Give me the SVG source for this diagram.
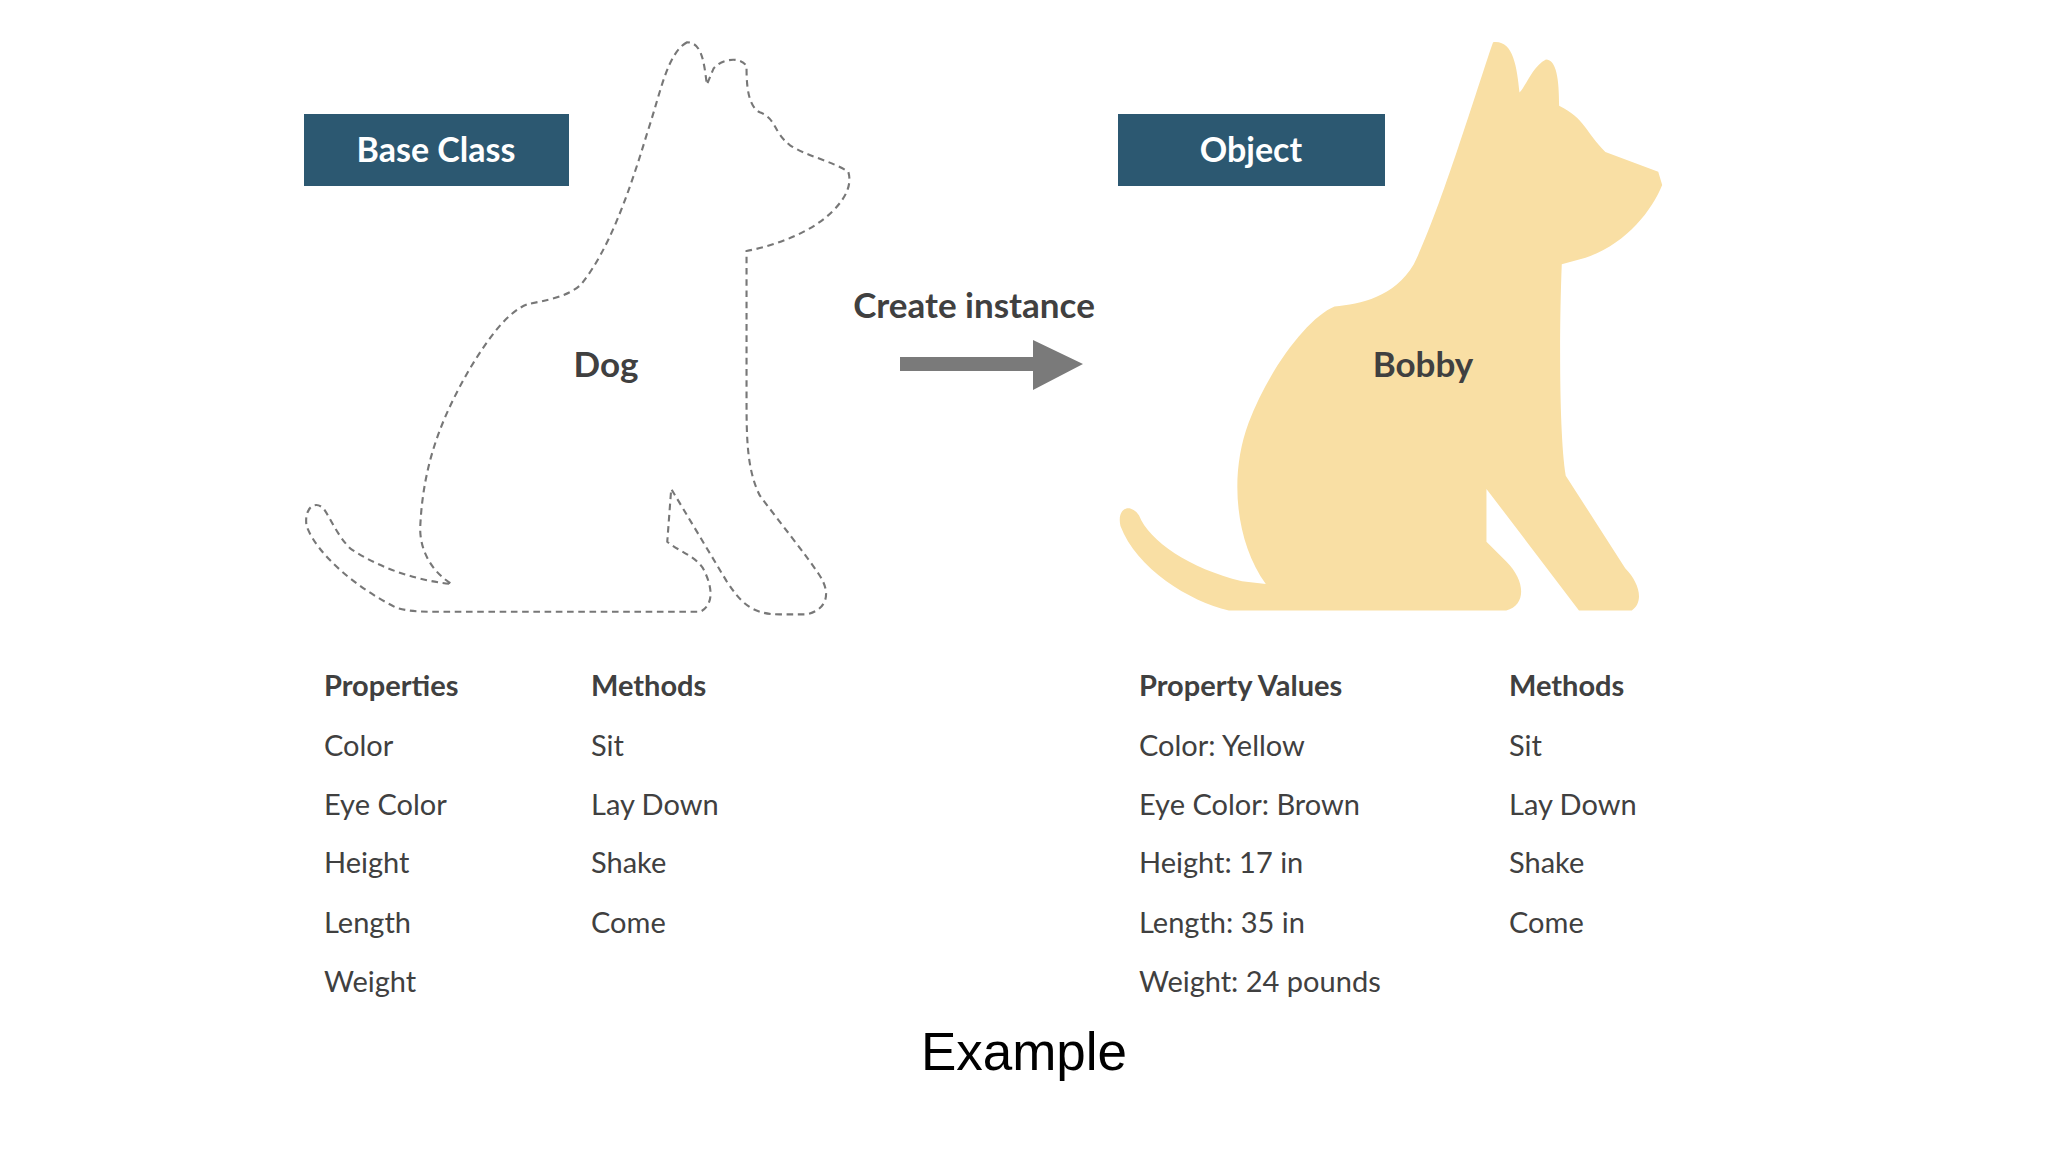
<svg xmlns="http://www.w3.org/2000/svg" width="2048" height="1152" viewBox="0 0 2048 1152">
<style>
.box{fill:#2c5871}
.bt{font-family:Lato,"Noto Sans",sans-serif;font-weight:bold;font-size:34px;fill:#fff;text-anchor:middle}
.lbl{font-family:Lato,"Noto Sans",sans-serif;font-weight:bold;font-size:35px;fill:#404040;text-anchor:middle}
.h{font-family:Lato,"Noto Sans",sans-serif;font-weight:bold;font-size:29px;fill:#404040}
.t{font-family:Lato,"Noto Sans",sans-serif;font-size:29px;fill:#404040}
</style>
<rect width="2048" height="1152" fill="#fff"/>
<g id="dog-outline" transform="scale(1.3213)">
<path d="M520,32 C505,40 500,70 490,100 C475,150 460,190 440,215 C430,225 410,228 400,230 C385,235 370,255 355,280 C335,315 320,350 318,400 C318,420 330,435 342,442 C320,440 290,432 265,415 C255,405 250,392 245,385 C238,378 230,385 232,398 C240,420 270,445 300,460 C310,463 320,463 330,463 L530,463 C540,458 540,445 532,430 C525,420 515,418 505,410 L508,370 C520,390 535,415 550,440 C560,455 568,465 590,465 L610,465 C625,462 630,450 620,435 C610,420 590,395 575,375 C565,355 565,330 565,300 L565,190 C590,185 615,175 630,160 C640,150 645,140 642,130 C630,122 610,118 598,110 C585,100 588,90 575,85 C565,80 565,60 565,50 C560,42 545,45 540,52 L535,64 C533,50 532,32 520,32 Z" fill="none" stroke="#777" stroke-width="1.6" stroke-dasharray="5,3.5"/>
</g>
<g id="dog-filled" transform="scale(1.3213)">
<path d="M1130,32 C1120,60 1090,160 1070,200 C1055,225 1030,230 1010,232 C990,240 960,280 945,320 C930,360 935,410 958,442 L940,440 C900,430 870,410 862,390 C855,380 845,385 848,398 C860,430 900,455 930,462 L1140,462 C1155,458 1155,440 1140,425 L1125,410 L1125,370 L1195,462 L1235,462 C1245,455 1240,440 1230,430 L1185,360 C1180,330 1180,250 1182,200 L1200,195 C1230,185 1250,160 1258,140 L1255,130 L1215,115 C1200,100 1200,90 1180,80 C1180,60 1178,45 1170,45 C1160,50 1155,65 1150,70 C1148,50 1145,30 1130,32 Z" fill="#f9dfa4"/>
</g>
<g id="base-class"><rect class="box" x="304" y="114" width="265" height="72"/><text class="bt" x="436" y="162">Base Class</text></g>
<g id="object"><rect class="box" x="1118" y="114" width="267" height="72"/><text class="bt" x="1251" y="162">Object</text></g>
<g id="dog-label"><text class="lbl" x="606" y="377">Dog</text></g>
<g id="bobby-label"><text class="lbl" x="1423" y="377">Bobby</text></g>
<g id="connectors">
<text class="lbl" x="974" y="318">Create instance</text>
<polygon points="900,357 1033,357 1033,340 1083,364 1033,390 1033,371 900,371" fill="#7a7a7a"/>
</g>
<g id="props">
<text class="h" x="324" y="696">Properties</text>
<text class="t" x="324" y="756">Color</text><text class="t" x="324" y="815">Eye Color</text><text class="t" x="324" y="873">Height</text><text class="t" x="324" y="933">Length</text><text class="t" x="324" y="992">Weight</text>
</g>
<g id="methods1">
<text class="h" x="591" y="696">Methods</text>
<text class="t" x="591" y="756">Sit</text><text class="t" x="591" y="815">Lay Down</text><text class="t" x="591" y="873">Shake</text><text class="t" x="591" y="933">Come</text>
</g>
<g id="values">
<text class="h" x="1139" y="696">Property Values</text>
<text class="t" x="1139" y="756">Color: Yellow</text><text class="t" x="1139" y="815">Eye Color: Brown</text><text class="t" x="1139" y="873">Height: 17 in</text><text class="t" x="1139" y="933">Length: 35 in</text><text class="t" x="1139" y="992">Weight: 24 pounds</text>
</g>
<g id="methods2">
<text class="h" x="1509" y="696">Methods</text>
<text class="t" x="1509" y="756">Sit</text><text class="t" x="1509" y="815">Lay Down</text><text class="t" x="1509" y="873">Shake</text><text class="t" x="1509" y="933">Come</text>
</g>
<text x="1024" y="1070" font-family="Liberation Sans,Arial,sans-serif" font-size="53" fill="#000" text-anchor="middle">Example</text>
</svg>
